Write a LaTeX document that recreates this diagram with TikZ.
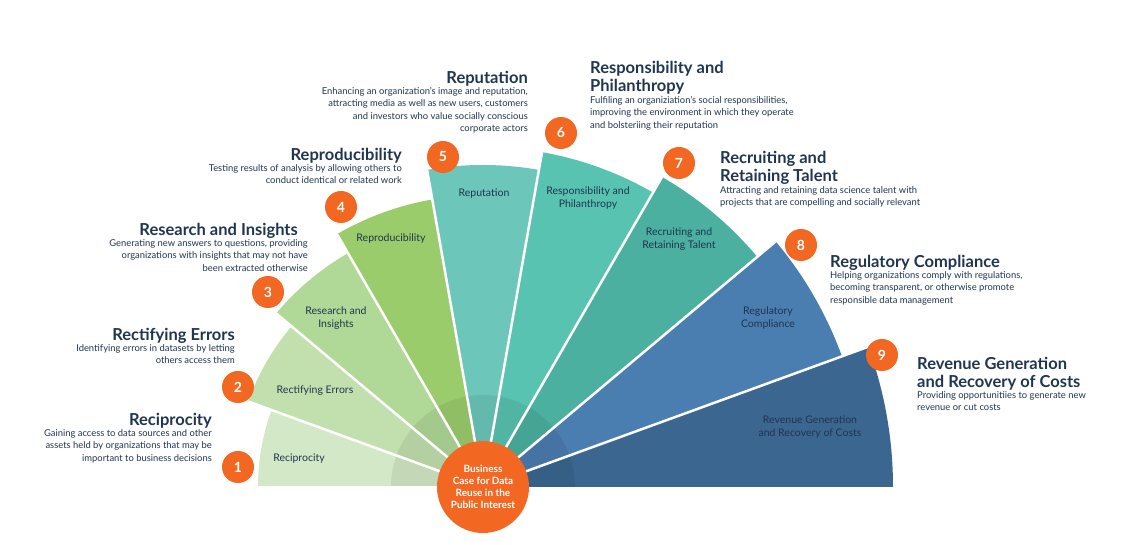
\documentclass[tikz,border=0pt]{standalone}
\usepackage{fontspec}
\setmainfont{Lato}
\usetikzlibrary{positioning}
\definecolor{navy}{HTML}{1F3550}
\definecolor{dotorange}{HTML}{F26722}
\definecolor{sA}{HTML}{D3E8C6}
\definecolor{sB}{HTML}{C2E0AE}
\definecolor{sC}{HTML}{B0D896}
\definecolor{sD}{HTML}{9BCC6C}
\definecolor{sE}{HTML}{6CC7BA}
\definecolor{sF}{HTML}{58C3B1}
\definecolor{sG}{HTML}{4BB0A0}
\definecolor{sH}{HTML}{4A7DB0}
\definecolor{sI}{HTML}{3B6690}
\begin{document}
\begin{tikzpicture}[x=1pt,y=1pt]
		\tikzset{
		num/.style={circle,fill=dotorange,text=white,font=\bfseries\fontsize{14}{14}\selectfont,minimum size=32pt,inner sep=0pt},
		ttl/.style={text=navy,font=\bfseries\fontsize{16.5}{18}\selectfont,inner sep=0pt},
		desc/.style={text=navy,font=\fontsize{9.4}{12.5}\selectfont,inner sep=0pt},
		lbl/.style={text=navy,font=\fontsize{10.5}{13.5}\selectfont,align=center,inner sep=0pt}
		}
		\useasboundingbox (0,0) rectangle (1125,545);
		\coordinate (c) at (483,58);
		% fan
		\foreach \i/\col/\r in {1/sA/225,2/sB/250,3/sC/270,4/sD/292,5/sE/322,6/sF/340,7/sG/358,8/sH/382,9/sI/410}{
			\pgfmathsetmacro{\aa}{180-20*(\i-1)}
			\pgfmathsetmacro{\ab}{180-20*\i}
			\fill[\col] (c) -- ++(\aa:\r pt) arc (\aa:\ab:\r pt) -- cycle;
			\fill[\col!85!black,opacity=0.45] (c) -- ++(\aa:92pt) arc (\aa:\ab:92pt) -- cycle;
			\draw[white,line width=2.5pt] (c) -- ++(\aa:\r pt);
		}
		\node[circle,fill=dotorange,minimum size=92pt,inner sep=0pt,text=white,align=center,
			font=\bfseries\fontsize{10}{12}\selectfont] (hub) at (c) {Business\\Case for Data\\Reuse in the\\Public Interest};

		% sector labels
		\node[lbl] (l1) at (299,86)  {Reciprocity};
		\node[lbl] (l2) at (315,154) {Rectifying Errors};
		\node[lbl] (l3) at (336,227) {Research and\\Insights};
		\node[lbl] (l4) at (391,306) {Reproducibility};
		\node[lbl] (l5) at (484,351) {Reputation};
		\node[lbl] (l6) at (588,347) {Responsibility and\\Philanthropy};
		\node[lbl] (l7) at (679,306) {Recruiting and\\Retaining Talent};
		\node[lbl] (l8) at (768,227) {Regulatory\\Compliance};
		\node[lbl] (l9) at (810,118) {Revenue Generation\\and Recovery of Costs};

		% numbers
		\node[num] (n1) at (238,78)  {1};
		\node[num] (n2) at (238,158) {2};
		\node[num] (n3) at (268,253) {3};
		\node[num] (n4) at (341,338) {4};
		\node[num] (n5) at (443,388) {5};
		\node[num] (n6) at (561,412) {6};
		\node[num] (n7) at (679,382) {7};
		\node[num] (n8) at (801,300) {8};
		\node[num] (n9) at (882,190) {9};

		% titles and descriptions
		\node[ttl,anchor=east] (t1) at (212,124) {Reciprocity};
		\node[desc,anchor=north east,align=right] (d1) at (212,116) {Gaining access to data sources and other\\assets held by organizations that may be\\important to business decisions};
		\node[ttl,anchor=east] (t2) at (235,209) {Rectifying Errors};
		\node[desc,anchor=north east,align=right] (d2) at (235,201) {Identifying errors in datasets by letting\\others access them};
		\node[ttl,anchor=east] (t3) at (298,314) {Research and Insights};
		\node[desc,anchor=north east,align=right] (d3) at (308,306) {Generating new answers to questions, providing\\organizations with insights that may not have\\been extracted otherwise};
		\node[ttl,anchor=east] (t4) at (402,389) {Reproducibility};
		\node[desc,anchor=north east,align=right] (d4) at (402,381) {Testing results of analysis by allowing others to\\conduct identical or related work};
		\node[ttl,anchor=east] (t5) at (528,466) {Reputation};
		\node[desc,anchor=north east,align=right] (d5) at (528,458) {Enhancing an organization's image and reputation,\\attracting media as well as new users, customers\\and investors who value socially conscious\\corporate actors};
		\node[ttl,anchor=north west,align=left] (t6) at (590,484) {Responsibility and\\Philanthropy};
		\node[desc,anchor=north west,align=left] (d6) at (590,449) {Fulfiling an organiziation's social responsibilities,\\improving the environment in which they operate\\and bolsteriing their reputation};
		\node[ttl,anchor=north west,align=left] (t7) at (720,394) {Recruiting and\\Retaining Talent};
		\node[desc,anchor=north west,align=left] (d7) at (720,359) {Attracting and retaining data science talent with\\projects that are compelling and socially relevant};
		\node[ttl,anchor=west] (t8) at (830,282) {Regulatory Compliance};
		\node[desc,anchor=north west,align=left] (d8) at (830,274) {Helping organizations comply with regulations,\\becoming transparent, or otherwise promote\\responsible data management};
		\node[ttl,anchor=north west,align=left] (t9) at (917,188) {Revenue Generation\\and Recovery of Costs};
		\node[desc,anchor=north west,align=left] (d9) at (917,154) {Providing opportunitiies to generate new\\revenue or cut costs};
\end{tikzpicture}
\end{document}
